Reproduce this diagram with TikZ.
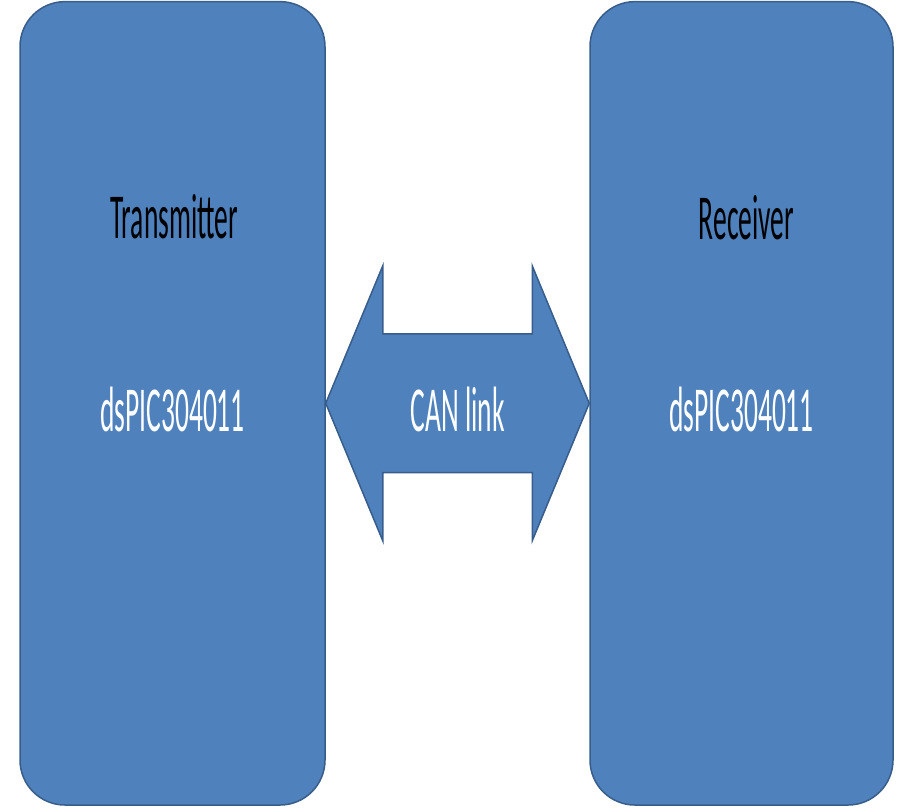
\documentclass[tikz,border=0pt]{standalone}
\usepackage{fontspec}
\setmainfont{Carlito}
\usetikzlibrary{calc}
\definecolor{boxblue}{HTML}{4F81BD}
\definecolor{edgeblue}{HTML}{385D8A}
\begin{document}
\begin{tikzpicture}[x=1pt,y=1pt,yscale=2.33,transform shape,
  block/.style={draw=edgeblue,fill=boxblue,line width=1.5pt,rounded corners=45pt,minimum height=344.8pt,inner sep=0pt},
  title/.style={anchor=base,font=\fontsize{27.5}{30}\selectfont,text=black},
  chip/.style={anchor=base,font=\fontsize{27.5}{30}\selectfont,text=white},
  link/.style={draw=edgeblue,fill=boxblue,line width=1.5pt,line join=miter}]
\useasboundingbox (0,0) rectangle (904,346.4);
\node[block,minimum width=305pt] (tx) at (172.5,173.3) {};
\node[block,minimum width=303pt] (rx) at (741.5,173.3) {};
% double arrow between the two boards
\draw[link] (tx.east) -- ++(57,59) -- ++(0,-29.2) -- ($(rx.west)+(-57,29.8)$) -- ++(0,29.2) -- (rx.west)
  -- ++(-57,-59) -- ++(0,29.2) -- ($(tx.east)+(57,-29.8)$) -- ++(0,-29.2) -- cycle;
\node[title] (txname) at (174,244) {Transmitter};
\node[chip] (txchip) at (172.5,161) {dsPIC304011};
\node[title] (rxname) at (746.5,243.5) {Receiver};
\node[chip] (rxchip) at (741.5,161) {dsPIC304011};
\node[chip] (can) at (457.5,161) {CAN link};
\end{tikzpicture}
\end{document}
